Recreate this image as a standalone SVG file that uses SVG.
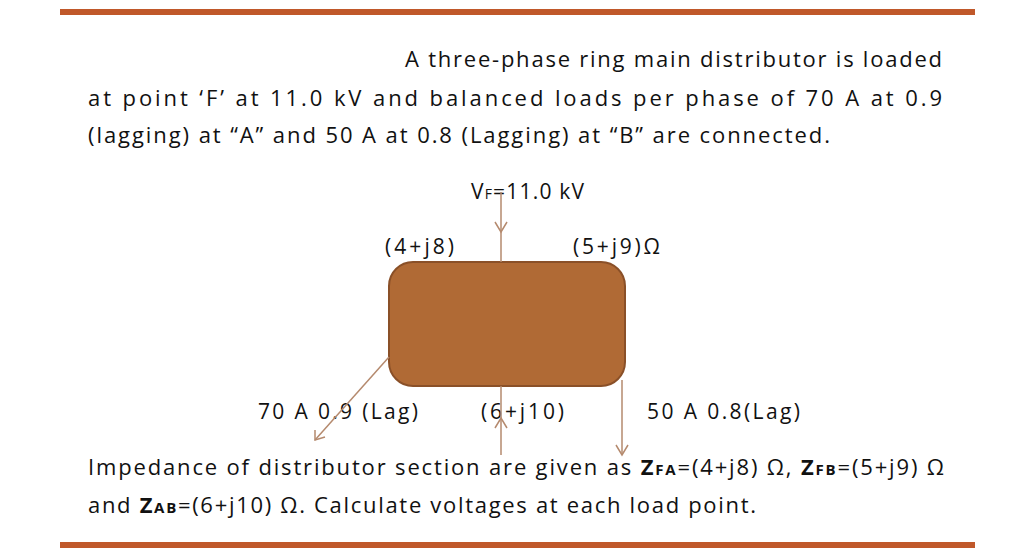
<svg xmlns="http://www.w3.org/2000/svg" width="1024" height="556" viewBox="0 0 1024 556">
<style>
.t{font-family:"Open Sans","Liberation Sans",sans-serif;font-size:22px;fill:#111}
.s{font-family:"Open Sans","Liberation Sans",sans-serif;font-size:21px;fill:#111}
.c{stroke:#b58a6e;stroke-width:1.5;fill:none}
.h{stroke:#b58a6e;stroke-width:1.5;fill:none}
</style>
<rect x="60" y="9" width="915" height="6" fill="#c0582a"/>
<rect x="60" y="542" width="915" height="6" fill="#c0582a"/>
<text class="t" x="405" y="67" textLength="537" lengthAdjust="spacing">A three-phase ring main distributor is loaded</text>
<text class="t" x="88" y="106" textLength="854" lengthAdjust="spacing">at point ‘F’ at 11.0 kV and balanced loads per phase of 70 A at 0.9</text>
<text class="t" x="88" y="143" textLength="742" lengthAdjust="spacing">(lagging) at “A” and 50 A at 0.8 (Lagging) at “B” are connected.</text>
<text class="t" x="88" y="475" textLength="856" lengthAdjust="spacing">Impedance of distributor section are given as <tspan font-weight="bold">Z<tspan font-size="15">FA</tspan></tspan>=(4+j8) Ω, <tspan font-weight="bold">Z<tspan font-size="15">FB</tspan></tspan>=(5+j9) Ω</text>
<text class="t" x="88" y="513" textLength="668" lengthAdjust="spacing">and <tspan font-weight="bold">Z<tspan font-size="15">AB</tspan></tspan>=(6+j10) Ω. Calculate voltages at each load point.</text>
<g id="ring">
<rect x="389" y="262" width="236" height="124" rx="24" fill="#b06a35" stroke="#8a5028" stroke-width="2"/>
</g>
<g id="labels">
<text class="s" x="471" y="199" font-size="17" textLength="113" lengthAdjust="spacing">V<tspan font-size="14">F</tspan>=11.0 kV</text>
<text class="s" x="385" y="254" textLength="69" lengthAdjust="spacing">(4+j8)</text>
<text class="s" x="573" y="254" textLength="87" lengthAdjust="spacing">(5+j9)Ω</text>
<text class="s" x="258" y="419" textLength="160" lengthAdjust="spacing">70 A 0.9 (Lag)</text>
<text class="s" x="481" y="419" textLength="83" lengthAdjust="spacing">(6+j10)</text>
<text class="s" x="647" y="419" textLength="153" lengthAdjust="spacing">50 A 0.8(Lag)</text>
</g>
<g id="connectors">
<line class="c" x1="501" y1="192" x2="501" y2="262"/>
<polyline class="h" points="495,222 501,232 507,222"/>
<line class="c" x1="501" y1="386" x2="501" y2="455"/>
<polyline class="h" points="495,428 501,418 507,428"/>
<line class="c" x1="622" y1="380" x2="622" y2="455"/>
<polyline class="h" points="616,445 622,455 628,445"/>
<line class="c" x1="389" y1="357" x2="315" y2="440"/>
<polyline class="h" points="315,430 315,440 325,437"/>
</g>
</svg>
